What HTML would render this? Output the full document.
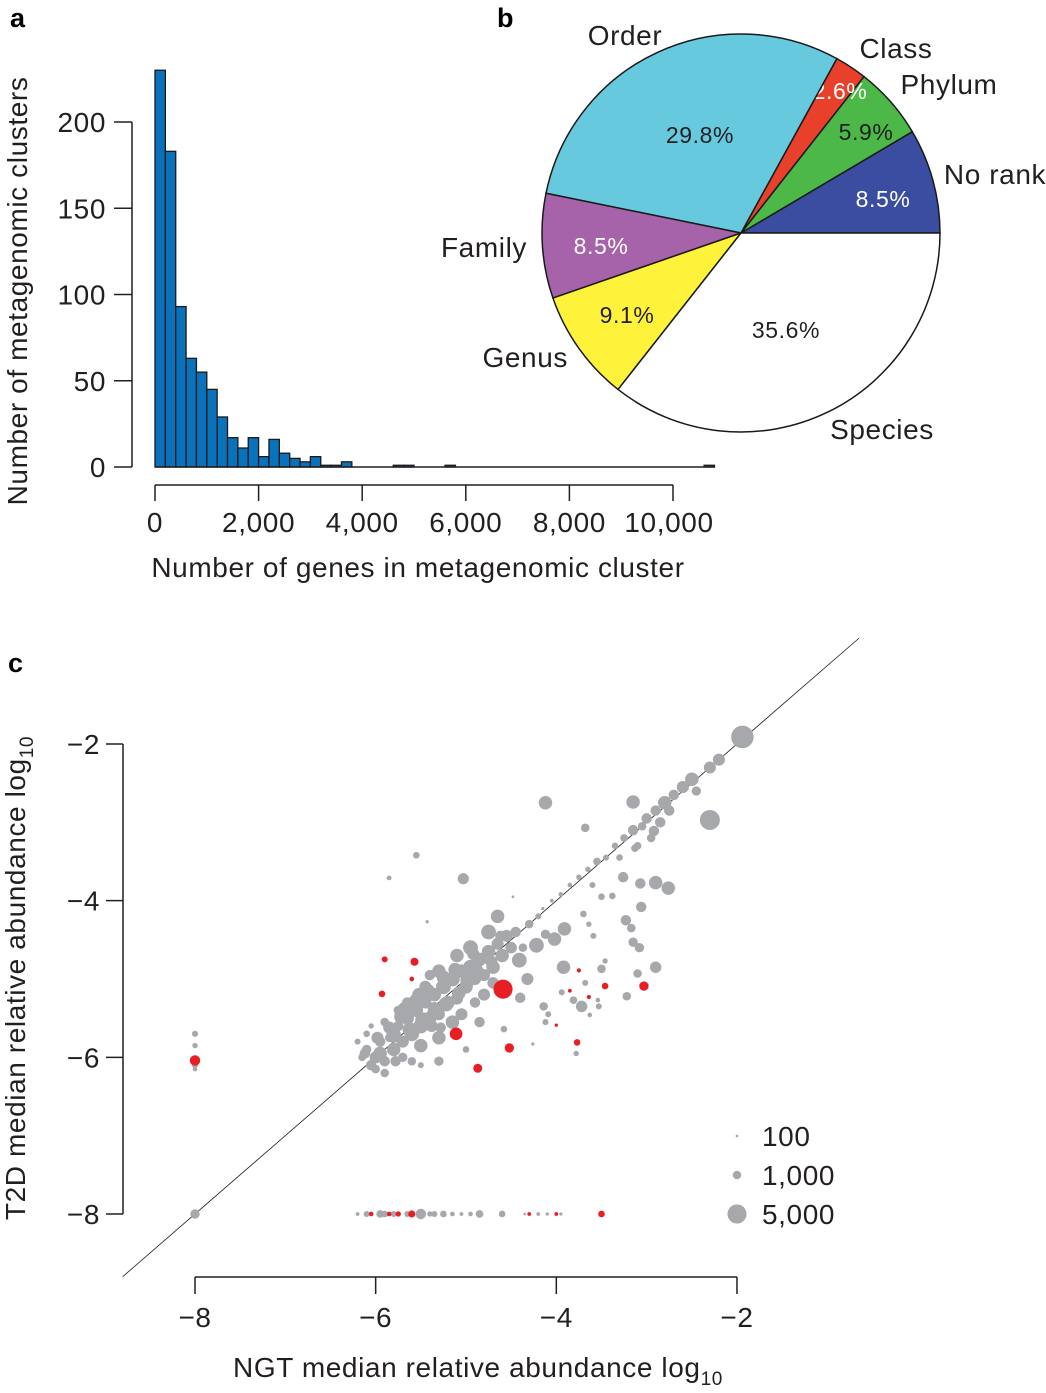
<!DOCTYPE html>
<html><head><meta charset="utf-8">
<style>
html,body{margin:0;padding:0;background:#fff;}
svg{display:block;font-family:"Liberation Sans",Arial,sans-serif;}
text{letter-spacing:0.6px;}
</style></head>
<body>
<svg id="fig" width="1046" height="1393" viewBox="0 0 1046 1393" xmlns="http://www.w3.org/2000/svg">
<text x="10" y="27" font-size="27" font-weight="bold">a</text>
<text x="497" y="27" font-size="27" font-weight="bold">b</text>
<text x="8" y="672" font-size="27" font-weight="bold">c</text>
<g id="hist"></g>
<g id="pie"></g>
<g id="scat"></g>
</svg>
<script>
// ---- Histogram data ----
const histBinStarts = [0,200,400,600,800,1000,1200,1400,1600,1800,2000,2200,2400,2600,2800,3000,3200,3400,3600,4600,4800,5600,10600];
const histCounts = [230,183,93,63,55,45,29,17,11,17,6,16,8,5,3,6,1,1,3,1,1,1,1];
const histXTicks = [0,2000,4000,6000,8000,10000];
const histXTickLabels = ["0","2,000","4,000","6,000","8,000","10,000"];
const histYTicks = [0,50,100,150,200];
// ---- Pie data ----
const pieLabels = ["No rank","Phylum","Class","Order","Family","Genus","Species"];
const pieValues = [8.5,5.9,2.6,29.8,8.5,9.1,35.6];
const pieColors = ["#3b4da0","#4cb848","#e8402a","#66c9de","#a663a9","#fff23b","#ffffff"];
// ---- Scatter data (log10 NGT, log10 T2D, genes, highlighted) ----
const scX = [-1.94,-2.3,-4.12,-3.15,-5.55,-5.86,-5.03,-2.5,-2.6,-2.7,-2.8,-2.9,-3.0,-3.05,-3.15,-3.25,-3.35,-3.45,-3.55,-3.65,-3.75,-3.85,-3.95,-4.05,-4.15,-2.75,-2.95,-3.3,-3.1,-2.85,-3.6,-2.45,-2.2,-2.3,
-2.9,-2.76,-3.07,-3.06,-3.26,-3.13,-2.92,-3.23,-3.17,-3.15,-3.08,-2.9,-3.1,-3.22,-3.5,-3.46,-3.68,-3.72,-3.92,-3.91,-4.02,-4.12,-4.22,-4.37,-4.41,-4.32,-4.4,-4.14,-4.09,-4.12,-4.58,-3.7,-3.64,-3.59,-3.5,-3.38,-3.94,-3.81,-3.63,-3.54,-3.53,-3.78,-4.26,-4.48,-5.43,-3.68,-5.85,
-6.1,-6.0,-5.95,-5.9,-5.85,-5.8,-5.75,-5.7,-5.65,-5.6,-5.55,-5.5,-5.45,-5.4,-5.35,-5.3,-5.25,-5.2,-5.15,-5.1,-5.05,-5.0,-4.95,-4.9,-4.85,-4.8,-4.75,-4.7,-4.65,-4.6,-4.55,-4.5,-4.45,-4.3,-4.2,
-5.45,-5.3,-5.1,-4.95,-4.75,-4.65,-5.4,-5.65,-5.9,-6.1,-5.75,
-5.9,-5.7,-5.5,-5.3,-5.15,-5.05,-4.9,-4.8,-4.7,-5.6,-5.3,-5.0,-4.85,-6.05,-6.2,-6.15,-6.05,-5.5,-6.0,
-5.95,-5.8,-5.62,-5.48,-5.35,-5.22,-5.08,-4.98,-4.88,-4.72,-5.72,-5.55,-5.42,-5.25,-5.12,-4.92,-5.85,-5.68,-5.52,-5.38,-6.12,-5.98,-5.78,-5.28,-4.62,
-8,-8,-8,-8,-8,
-6.2,-6.1,-5.95,-5.9,-5.8,-5.65,-5.5,-5.4,-5.35,-5.25,-5.15,-5.05,-4.95,-4.85,-4.6,-4.2,-4.1,-3.95,-4.35,
-5.9,-5.57,-5.6,-5.93,-4.59,-5.11,-4.52,-4.87,-3.75,-3.85,-3.64,-3.46,-3.03,-4.0,-3.77,-8,-6.05,-5.85,-5.75,-5.6,-4.3,-4.0,-3.5];
const scY = [-1.91,-2.97,-2.75,-2.74,-3.42,-3.71,-3.72,-2.45,-2.55,-2.65,-2.75,-2.85,-2.95,-3.05,-3.1,-3.2,-3.3,-3.45,-3.5,-3.6,-3.7,-3.8,-3.92,-4.0,-4.1,-2.85,-3.2,-3.45,-3.3,-3.0,-3.8,-2.6,-2.2,-2.3,
-3.77,-3.84,-3.78,-4.08,-3.7,-3.33,-3.11,-4.25,-4.35,-4.53,-4.6,-4.85,-4.93,-5.22,-4.87,-4.77,-5.05,-5.35,-4.85,-4.36,-4.49,-4.43,-4.57,-4.6,-4.76,-5.0,-5.24,-5.35,-5.45,-5.55,-5.64,-4.17,-4.3,-4.45,-3.95,-3.94,-5.17,-5.27,-5.46,-5.27,-5.35,-5.95,-5.83,-3.95,-4.27,-3.07,-3.71,
-5.9,-6.0,-5.8,-6.05,-5.75,-5.9,-5.6,-5.8,-5.5,-5.7,-5.4,-5.6,-5.3,-5.5,-5.2,-5.45,-5.1,-5.3,-5.0,-5.25,-4.9,-5.1,-4.85,-5.0,-4.75,-4.95,-4.65,-4.85,-4.55,-4.7,-4.45,-4.6,-4.4,-4.3,-4.2,
-5.1,-4.9,-4.7,-4.6,-4.4,-4.2,-4.95,-5.3,-5.55,-5.7,-5.4,
-6.2,-6.0,-5.85,-5.75,-5.55,-5.45,-5.3,-5.2,-5.05,-6.05,-6.05,-5.9,-5.55,-6.1,-5.8,-6.0,-5.6,-6.1,-6.15,
-5.95,-5.72,-5.65,-5.52,-5.38,-5.32,-5.18,-5.02,-4.9,-4.78,-5.48,-5.28,-5.15,-4.98,-4.88,-4.68,-5.62,-5.38,-5.2,-5.6,-5.95,-5.75,-6.05,-5.62,-4.45,
-5.7,-5.85,-6.1,-6.15,-8,
-8,-8,-8,-8,-8,-8,-8,-8,-8,-8,-8,-8,-8,-8,-8,-8,-8,-8,-8,
-4.75,-4.78,-5.0,-5.19,-5.13,-5.7,-5.88,-6.14,-4.89,-5.15,-5.23,-5.09,-5.09,-5.59,-5.81,-6.04,-8,-8,-8,-8,-8,-8,-8];
const scSize = [7000,5500,2500,2500,600,150,1700,2500,2000,1500,2500,1500,1500,1000,1500,800,600,500,800,400,400,300,300,200,150,1500,1000,600,800,1500,500,1200,2000,2000,
2500,2500,1500,1500,1500,800,1500,1500,1000,1200,1200,1800,1000,1000,1000,400,500,1800,2500,2500,2500,1200,3000,1000,3000,2000,1500,1000,500,500,600,600,400,500,600,600,500,800,300,300,500,400,150,100,150,1000,300,
1200,2000,1500,1500,1000,2500,1500,2000,2500,3000,2500,3000,2000,2500,2500,2000,3000,2500,3000,2000,2500,2500,3000,2000,2500,2000,2500,2500,2000,2500,2000,1800,1500,1000,500,
2000,2500,2500,3000,3000,2500,1500,1500,1000,600,1200,
1000,1200,2500,2500,2500,2000,1500,2000,1800,1000,1200,600,1500,1500,500,800,400,500,1000,
2500,3000,3000,3000,2500,3000,2500,3000,2500,2000,2500,3000,2500,2500,2500,2000,2000,2500,2500,2000,1500,2000,1500,1500,1500,
500,400,500,300,1200,
200,500,800,600,500,500,1500,400,500,600,300,200,300,800,600,200,150,150,100,
500,900,300,600,5000,2200,1200,1100,250,200,250,600,1200,150,600,1500,300,300,400,700,200,200,600];
const scRed = [0,0,0,0,0,0,0,0,0,0,0,0,0,0,0,0,0,0,0,0,0,0,0,0,0,0,0,0,0,0,0,0,0,0,
0,0,0,0,0,0,0,0,0,0,0,0,0,0,0,0,0,0,0,0,0,0,0,0,0,0,0,0,0,0,0,0,0,0,0,0,0,0,0,0,0,0,0,0,0,0,0,
0,0,0,0,0,0,0,0,0,0,0,0,0,0,0,0,0,0,0,0,0,0,0,0,0,0,0,0,0,0,0,0,0,0,0,
0,0,0,0,0,0,0,0,0,0,0,
0,0,0,0,0,0,0,0,0,0,0,0,0,0,0,0,0,0,0,
0,0,0,0,0,0,0,0,0,0,0,0,0,0,0,0,0,0,0,0,0,0,0,0,0,
0,0,0,0,0,
0,0,0,0,0,0,0,0,0,0,0,0,0,0,0,0,0,0,0,
1,1,1,1,1,1,1,1,1,1,1,1,1,1,1,1,1,1,1,1,1,1,1];
const scTicks = [-8,-6,-4,-2];
const legendSizes = [100,1000,5000];
const legendLabels = ["100","1,000","5,000"];

const NS="http://www.w3.org/2000/svg";
function mk(parent,tag,attrs){const e=document.createElementNS(NS,tag);for(const k in attrs)e.setAttribute(k,attrs[k]);parent.appendChild(e);return e;}
function txt(parent,x,y,s,size,anchor){const t=mk(parent,'text',{x:x,y:y,'font-size':size,'text-anchor':anchor||'start',fill:'#231f20'});t.textContent=s;return t;}

// ---- Histogram ----
const H=document.getElementById('hist');
const hx=v=>155+v*0.0518, hy=v=>467-v*1.725;
histBinStarts.forEach((b,i)=>{
  const r=mk(H,'rect',{x:hx(b),y:hy(histCounts[i]),width:hx(b+200)-hx(b),height:hy(0)-hy(histCounts[i]),fill:'#0a72bb',stroke:'#1a1a1a','stroke-width':1.3});
  
  
});
let l=mk(H,'line',{x1:155,y1:467,x2:715,y2:467,stroke:'#231f20','stroke-width':1.5});


l=mk(H,'line',{x1:132,y1:hy(200),x2:132,y2:hy(0),stroke:'#231f20','stroke-width':1.5});


histYTicks.forEach(v=>{
  mk(H,'line',{x1:114,y1:hy(v),x2:132,y2:hy(v),stroke:'#231f20','stroke-width':1.5});
  const t=txt(H,106,hy(v)+10,String(v),28,'end');
  
  
});
l=mk(H,'line',{x1:hx(0),y1:485,x2:hx(10000),y2:485,stroke:'#231f20','stroke-width':1.5});


histXTicks.forEach((v,i)=>{
  mk(H,'line',{x1:hx(v),y1:485,x2:hx(v),y2:501,stroke:'#231f20','stroke-width':1.5});
  const t=txt(H,hx(v)+(i===5?-4:0),532,histXTickLabels[i],28,'middle');
  
  
});
let t=txt(H,418,577,"Number of genes in metagenomic cluster",28,'middle');


t=txt(H,0,0,"Number of metagenomic clusters",28,'middle');
t.setAttribute('transform','translate(27,291) rotate(-90)');



// ---- Pie ----
const P=document.getElementById('pie');
const cx=741,cy=233,R=199;
const total=pieValues.reduce((a,b)=>a+b,0);
const labelPos=[[995,184,'middle'],[949,94,'middle'],[896,58,'middle'],[625,45,'middle'],[527,257,'end'],[568,367,'end'],[882,439,'middle']];
const pctPos=[[883,207],[866,140],[840,99],[700,143],[601,254],[627,323],[786,338]];
let a0=0;
pieValues.forEach((v,i)=>{
  const a1=a0+v/total*2*Math.PI;
  const x0=cx+R*Math.cos(a0),y0=cy-R*Math.sin(a0),x1=cx+R*Math.cos(a1),y1=cy-R*Math.sin(a1);
  const large=(a1-a0)>Math.PI?1:0;
  const p=mk(P,'path',{d:`M${cx},${cy} L${x0},${y0} A${R},${R} 0 ${large} 0 ${x1},${y1} Z`,fill:pieColors[i],stroke:'#1a1a1a','stroke-width':1.5});
  
  
  const lt=txt(P,labelPos[i][0],labelPos[i][1],pieLabels[i],28,labelPos[i][2]);
  
  
  const dark=(i===0||i===2||i===4);
  const pt=txt(P,pctPos[i][0],pctPos[i][1],v.toFixed(1)+'%',23,'middle');
  pt.setAttribute('fill',dark?'#ffffff':'#231f20');
  
  
  a0=a1;
});

// ---- Scatter ----
const S=document.getElementById('scat');
const sx=v=>195+(v+8)*90.33, sy=v=>744-(v+2)*78.33;
const rad=s=>0.135*Math.sqrt(s);
l=mk(S,'line',{x1:sx(-8.8),y1:sy(-8.8),x2:sx(-0.65),y2:sy(-0.65),stroke:'#231f20','stroke-width':0.8});


const order=scX.map((_,i)=>i).sort((a,b)=>scRed[a]-scRed[b]);
order.forEach(i=>{
  const c=mk(S,'circle',{cx:sx(scX[i]),cy:sy(scY[i]),r:rad(scSize[i]),fill:scRed[i]?'#e81e25':'#a7a8ac'});
  
  
});
l=mk(S,'line',{x1:123,y1:sy(-2),x2:123,y2:sy(-8),stroke:'#231f20','stroke-width':1.5});


l=mk(S,'line',{x1:sx(-8),y1:1277,x2:sx(-2),y2:1277,stroke:'#231f20','stroke-width':1.5});


scTicks.forEach(v=>{
  mk(S,'line',{x1:106,y1:sy(v),x2:123,y2:sy(v),stroke:'#231f20','stroke-width':1.5});
  let tt=txt(S,100,sy(v)+10,'\u2212'+Math.abs(v),28,'end');
  
  
  mk(S,'line',{x1:sx(v),y1:1277,x2:sx(v),y2:1294,stroke:'#231f20','stroke-width':1.5});
  tt=txt(S,sx(v),1327,'\u2212'+Math.abs(v),28,'middle');
  
  
});
legendSizes.forEach((s,i)=>{
  const yy=1136+i*39;
  const c=mk(S,'circle',{cx:737,cy:yy,r:rad(s),fill:'#a7a8ac'});
  
  
  const tt=txt(S,762,yy+10,legendLabels[i],28,'start');
  
  
});
t=mk(S,'text',{x:478,y:1377,'font-size':28,'text-anchor':'middle',fill:'#231f20'});
t.innerHTML='NGT median relative abundance log<tspan font-size="19" dy="8">10</tspan>';


t=mk(S,'text',{x:0,y:0,'font-size':28,'text-anchor':'middle',fill:'#231f20',transform:'translate(25,978) rotate(-90)'});
t.innerHTML='T2D median relative abundance log<tspan font-size="19" dy="8">10</tspan>';


</script>
</body></html>
